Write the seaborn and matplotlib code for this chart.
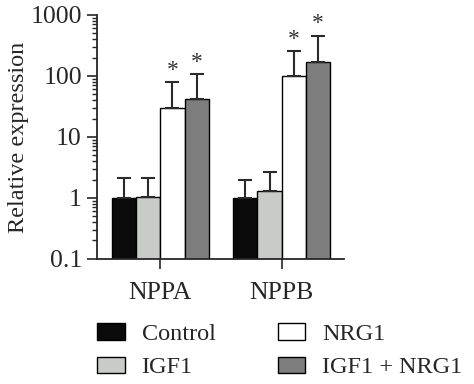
import numpy as np
import pandas as pd
import matplotlib
matplotlib.use('Agg')
import matplotlib.pyplot as plt
import seaborn as sns

# values
genes = ['NPPA', 'NPPB']
groups = ['Control', 'IGF1', 'NRG1', 'IGF1 + NRG1']
means = {'Control': [1.0, 1.0],
         'IGF1': [1.02, 1.3],
         'NRG1': [30, 100],
         'IGF1 + NRG1': [42, 170]}
upper = {'Control': [2.1, 2.0],
         'IGF1': [2.1, 2.7],
         'NRG1': [79, 257],
         'IGF1 + NRG1': [108, 457]}
signif = {'Control': [False, False],
          'IGF1': [False, False],
          'NRG1': [True, True],
          'IGF1 + NRG1': [True, True]}
colors = ['#0a0a0a', '#c9cbc9', '#ffffff', '#7d7d7d']

rows = []
for g in groups:
    for i, gene in enumerate(genes):
        rows.append({'gene': gene, 'group': g, 'value': means[g][i]})
df = pd.DataFrame(rows)

sns.set_style('ticks')
plt.rcParams['font.family'] = ['Liberation Serif', 'DejaVu Serif']
FS = 18.5

fig = plt.figure(figsize=(4.74, 3.84), dpi=100)
ax = fig.add_axes([0.205, 0.326, 0.52, 0.635])
ax.set_yscale('log')

sns.barplot(data=df, x='gene', y='value', hue='group', hue_order=groups,
            palette=colors, edgecolor='black', linewidth=1.0, errorbar=None,
            width=0.8, saturation=1, ax=ax)

# upper error bars and significance stars
bar_containers = list(ax.containers)
for k, cont in enumerate(bar_containers):
    g = groups[k]
    for j, bar in enumerate(cont):
        xc = bar.get_x() + bar.get_width() / 2
        m = means[g][j]
        ax.errorbar(xc, m, yerr=[[0], [upper[g][j] - m]], fmt='none',
                    ecolor='#2a2a2a', elinewidth=1.5, capsize=5, capthick=1.5,
                    zorder=1)
        if signif[g][j]:
            ax.annotate('*', (xc, upper[g][j]), xytext=(0, 1),
                        textcoords='offset points', ha='center', va='bottom',
                        fontsize=17, color='#333333')

ax.set_ylim(0.1, 1000)
ax.set_xlim(-0.52, 1.51)
ax.yaxis.set_major_formatter(matplotlib.ticker.FuncFormatter(lambda v, p: '{:g}'.format(v)))
ax.tick_params(axis='y', which='major', length=7, width=1.2, labelsize=FS, pad=4)
ax.tick_params(axis='y', which='minor', length=3.5, width=1.0)
ax.tick_params(axis='x', length=7, width=1.2, labelsize=FS, pad=10)
ax.set_xlabel('')
ax.set_ylabel('Relative expression', fontsize=17.5, labelpad=1)
sns.despine(ax=ax)
for s in ['left', 'bottom']:
    ax.spines[s].set_linewidth(1.3)

handles, labels = ax.get_legend_handles_labels()
ax.legend(handles, labels, ncol=2, frameon=False, fontsize=17.5,
          loc='upper left', bbox_to_anchor=(0.0, -0.265),
          borderaxespad=0, borderpad=0,
          handlelength=1.15, handleheight=0.65, columnspacing=2.55,
          labelspacing=0.48, handletextpad=0.68)

fig.savefig('out.png', dpi=100)
